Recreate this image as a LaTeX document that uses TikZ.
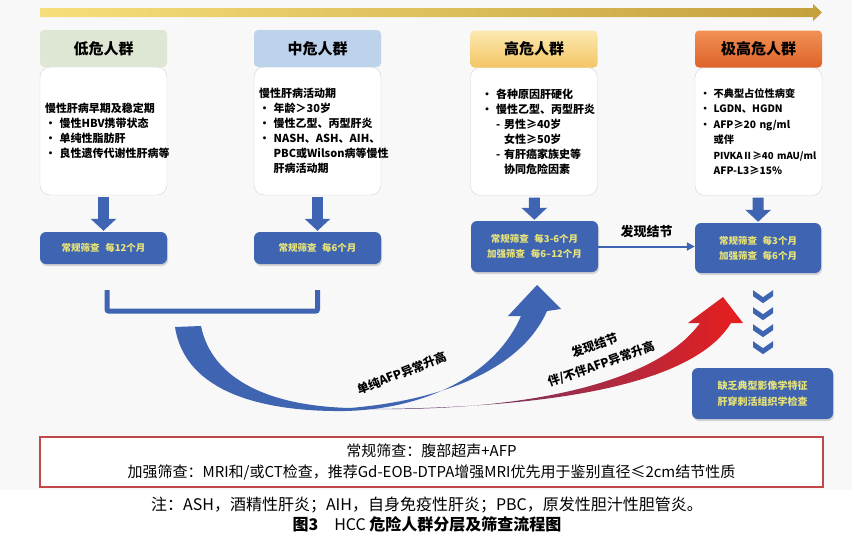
\documentclass[tikz,border=0pt]{standalone}
\usepackage{fontspec}
\setmainfont{Noto Sans CJK SC}
\usepackage{xcolor}
\usetikzlibrary{arrows.meta,shadows,calc}

\definecolor{scrblue}{RGB}{62,100,178}
\definecolor{scrtext}{RGB}{232,228,120}
\definecolor{lowhead}{RGB}{222,231,212}
\definecolor{midhead}{RGB}{189,211,236}
\definecolor{hightop}{RGB}{252,233,178}
\definecolor{highbot}{RGB}{243,196,100}
\definecolor{vhtop}{RGB}{242,145,85}
\definecolor{vhbot}{RGB}{222,98,42}
\definecolor{goldL}{RGB}{247,222,125}
\definecolor{goldR}{RGB}{196,160,60}
\definecolor{boxred}{RGB}{192,72,72}
\definecolor{bggray}{RGB}{248,248,248}
\definecolor{redstart}{RGB}{70,62,125}
\definecolor{redmid}{RGB}{205,30,45}
\definecolor{arrowred}{RGB}{232,30,30}

\newcommand{\bulletpad}{\phantom{•~}}

\begin{document}
\begin{tikzpicture}[x=1pt,y=-1pt,
    header/.style={rounded corners=4pt,minimum width=127pt,minimum height=37pt,inner sep=0pt,
        font=\fontsize{15}{18}\selectfont\bfseries},
    content/.style={draw=gray!35,fill=white,rounded corners=10pt,minimum width=127pt,
        minimum height=128pt,text width=117pt,inner xsep=5pt,align=left,
        font=\fontsize{11}{15}\selectfont\bfseries},
    screen/.style={fill=scrblue,rounded corners=6pt,text=scrtext,align=center,inner sep=0pt,
        font=\fontsize{9.5}{15}\selectfont\bfseries,
        drop shadow={shadow xshift=1pt,shadow yshift=-2pt,opacity=0.3}},
    downarrow/.style={scrblue,line width=11pt,-{Triangle[width=25pt,length=12pt]},
        shorten <=2pt,shorten >=1pt},
    curvelabel/.style={font=\fontsize{12}{20}\selectfont\bfseries,align=center,inner sep=0pt}]

    \useasboundingbox (0,0) rectangle (865,541);
    \fill[white] (0,0) rectangle (865,541);
    \fill[bggray] (0,0) rectangle (852,490);

    % Risk direction
    \shade[left color=goldL,right color=goldR] (40,8) -- (813,8) -- (813,4) -- (822,12.5)
        -- (813,21) -- (813,17) -- (40,17) -- cycle;

    % Content boxes
    \node[content] (low) at (103.5,131) {慢性肝病早期及稳定期\\
        •~慢性HBV携带状态\\
        •~单纯性脂肪肝\\
        •~良性遗传代谢性肝病等};
    \node[content] (mid) at (317.5,131) {慢性肝病活动期\\
        •~年龄＞30岁\\
        •~慢性乙型、丙型肝炎\\
        •~NASH、ASH、AIH、\\
        \bulletpad PBC或Wilson病等慢性\\
        \bulletpad 肝病活动期};
    \node[content] (high) at (534,131.5) {\hspace*{6pt}•~各种原因肝硬化\\
        \hspace*{6pt}•~慢性乙型、丙型肝炎\\
        \hspace*{6pt}\bulletpad-~男性≥40岁\\
        \hspace*{6pt}\bulletpad\phantom{-~}女性≥50岁\\
        \hspace*{6pt}\bulletpad-~有肝癌家族史等\\
        \hspace*{6pt}\bulletpad\phantom{-~}协同危险因素};
    \node[content,font=\fontsize{10.2}{15.5}\selectfont\bfseries] (vh) at (758.5,131.5) {•~不典型占位性病变\\
        •~LGDN、HGDN\\
        •~AFP≥20~ng/ml\\
        \bulletpad 或伴\\
        \bulletpad{\fontsize{9.6}{15.5}\selectfont PIVKAⅡ≥40~mAU/ml}\\
        \bulletpad AFP-L3≥15\%};

    % Headers
    \node[header,fill=lowhead] (lowhd) at (103.5,48.5) {低危人群};
    \node[header,fill=midhead] (midhd) at (317.5,48.5) {中危人群};
    \node[header,top color=hightop,bottom color=highbot] (highhd) at (534,49) {高危人群};
    \node[header,top color=vhtop,bottom color=vhbot] (vhhd) at (758.5,49) {极高危人群};

    % Screening boxes
    \node[screen,minimum width=127pt,minimum height=32pt] (lowscr) at (103.5,248) {常规筛查\hspace{0.6em}每12个月};
    \node[screen,minimum width=127pt,minimum height=32pt] (midscr) at (317.5,248) {常规筛查\hspace{0.6em}每6个月};
    \node[screen,minimum width=127pt,minimum height=51pt] (highscr) at (534.5,246.5) {常规筛查\hspace{0.6em}每3-6个月\\加强筛查\hspace{0.6em}每6–12个月};
    \node[screen,minimum width=126pt,minimum height=50pt] (vhscr) at (758,248) {常规筛查\hspace{0.6em}每3个月\\加强筛查\hspace{0.6em}每6个月};
    \node[screen,minimum width=141pt,minimum height=51pt,font=\fontsize{10}{16}\selectfont\bfseries] (biopsy) at (762.5,393.5) {缺乏典型影像学特征\\肝穿刺活组织学检查};

    % Down arrows
    \draw[downarrow] (low) -- (lowscr);
    \draw[downarrow] (mid) -- (midscr);
    \draw[downarrow] (high) -- (highscr);
    \draw[downarrow] (vh) -- (vhscr);

    % Nodule found
    \draw[scrblue,line width=2pt,-{Triangle[width=8pt,length=8pt]}] (highscr.east) -- (highscr.east -| vhscr.west)
        node[midway,above=4pt,text=black,font=\fontsize{13}{15}\selectfont\bfseries] (nodlabel) {发现结节};

    % Bracket under low and mid
    \draw[scrblue,line width=5pt,rounded corners=2pt] ([shift={(3.5,26)}]lowscr.south)
        |- ([shift={(0,47)}]midscr.south) -- ([shift={(0,26)}]midscr.south);

    % Curved arrows
    \fill[scrblue] (175,327) .. controls (185,392) and (262,412) .. (345,411)
        .. controls (430,409) and (497,372) .. (521,316)
        -- (508,316) -- (537,285) -- (561,309) -- (547,311)
        .. controls (522,368) and (445,400) .. (350,408)
        .. controls (270,406) and (212,380) .. (201,326) -- cycle;
    \shade[left color=redstart,middle color=redmid,right color=arrowred]
        (370,409) .. controls (520,411) and (655,385) .. (700,323)
        -- (688,323) -- (723,297) -- (743,323) -- (731,323)
        .. controls (690,390) and (530,408) .. (370,409) -- cycle;
    \node[curvelabel,rotate=21] (afplabel) at (402,373) {单纯AFP异常升高};
    \node[curvelabel,rotate=19] (nodafp) at (598,355) {发现结节\\伴/不伴AFP异常升高};

    % Chevrons
    \foreach \k in {0,...,3}
        \fill[scrblue] ($(vhscr.south)+(-5,17+17*\k)$) -- ++(10,7) -- ++(10,-7) -- ++(0,6)
            -- ++(-10,7) -- ++(-10,-7) -- cycle;

    % Methods
    \node[draw=boxred,line width=1.5pt,fill=white,minimum width=783pt,minimum height=50pt,
        align=center,font=\fontsize{15}{21}\selectfont] (methods) at (431.5,462)
        {常规筛查：腹部超声+AFP\\加强筛查：MRI和/或CT检查，推荐Gd-EOB-DTPA增强MRI优先用于鉴别直径≤2cm结节性质};

    % Caption
    \node[font=\fontsize{16}{18}\selectfont] (note) at (427,505)
        {注：ASH，酒精性肝炎；AIH，自身免疫性肝炎；PBC，原发性胆汁性胆管炎。};
    \node[font=\fontsize{16}{18}\selectfont\bfseries] (title) at (427,524)
        {图3\hspace{1em}{\mdseries HCC} 危险人群分层及筛查流程图};
\end{tikzpicture}
\end{document}
